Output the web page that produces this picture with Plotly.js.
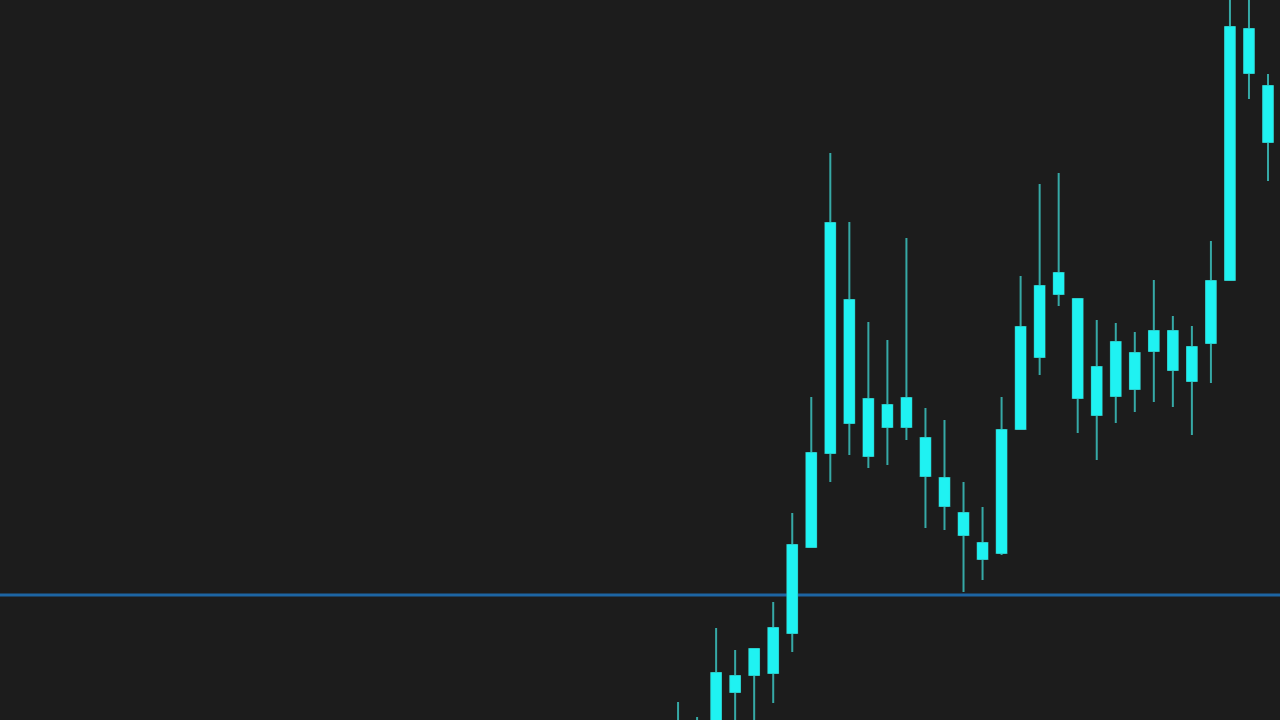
<!DOCTYPE html>
<html>
<head>
<meta charset="utf-8">
<script src="https://cdn.plot.ly/plotly-3.0.1.min.js"></script>
<style>
  html, body { margin: 0; padding: 0; background: #1c1c1c; }
  #chart { width: 1280px; height: 720px; }
</style>
</head>
<body>
<div id="chart"></div>
<script>
// Candle index (time step)
const idx   = [0,1,2,3,4,5,6,7,8,9,10,11,12,13,14,15,16,17,18,19,20,21,22,23,24,25,26,27,28,29,30,31,32];
// Prices (arbitrary price units)
const open  = [-40,-35,-20,28,45,47,87,173,267,420,321,315,293,282,242,207,161,167,291,363,426,421,353,324,331,369,389,373,377,440,691,634,566];
const close = [-5,-15,47,44,71,92,175,267,497,297,264,293,322,244,214,185,177,290,393,434,447,322,305,378,367,389,350,339,439,693,647,578,527];
const high  = [18,3,92,70,71,118,207,323,567,498,398,380,482,312,300,238,213,323,444,536,547,421,400,397,388,440,404,394,479,760,760,646,590];
const low   = [-50,-45,-30,-5,-5,17,68,172,238,265,252,255,280,192,190,128,140,165,290,345,414,287,260,297,308,318,313,285,337,440,621,539,500];
// Horizontal support level
const level = 125;

const bodyHigh = open.map((o, i) => Math.max(o, close[i]));
const bodyLow  = open.map((o, i) => Math.min(o, close[i]));

const wickColor = '#36a9a6';
const bodyColor = '#1ff2f2';

const wicks = {
  type: 'candlestick', x: idx, open: open, close: close, high: high, low: low,
  increasing: { line: { color: wickColor, width: 2 }, fillcolor: bodyColor },
  decreasing: { line: { color: wickColor, width: 2 }, fillcolor: bodyColor },
  hoverinfo: 'skip', showlegend: false
};
const bodies = {
  type: 'candlestick', x: idx, open: open, close: close, high: bodyHigh, low: bodyLow,
  increasing: { line: { color: bodyColor, width: 1 }, fillcolor: bodyColor },
  decreasing: { line: { color: bodyColor, width: 1 }, fillcolor: bodyColor },
  hoverinfo: 'skip', showlegend: false
};

const layout = {
  width: 1280, height: 720,
  margin: { l: 0, r: 0, t: 0, b: 0 },
  paper_bgcolor: '#1c1c1c', plot_bgcolor: '#1c1c1c',
  showlegend: false,
  boxgap: 0.27,
  xaxis: { range: [-35.63, 31.63], visible: false, rangeslider: { visible: false }, fixedrange: true },
  yaxis: { range: [0, 720], visible: false, fixedrange: true },
  shapes: [{
    type: 'line', xref: 'paper', x0: 0, x1: 1, yref: 'y', y0: level, y1: level,
    line: { color: '#1d65a3', width: 3 }, layer: 'below'
  }]
};

Plotly.newPlot('chart', [wicks, bodies], layout, { displayModeBar: false, staticPlot: true });
</script>
</body>
</html>
